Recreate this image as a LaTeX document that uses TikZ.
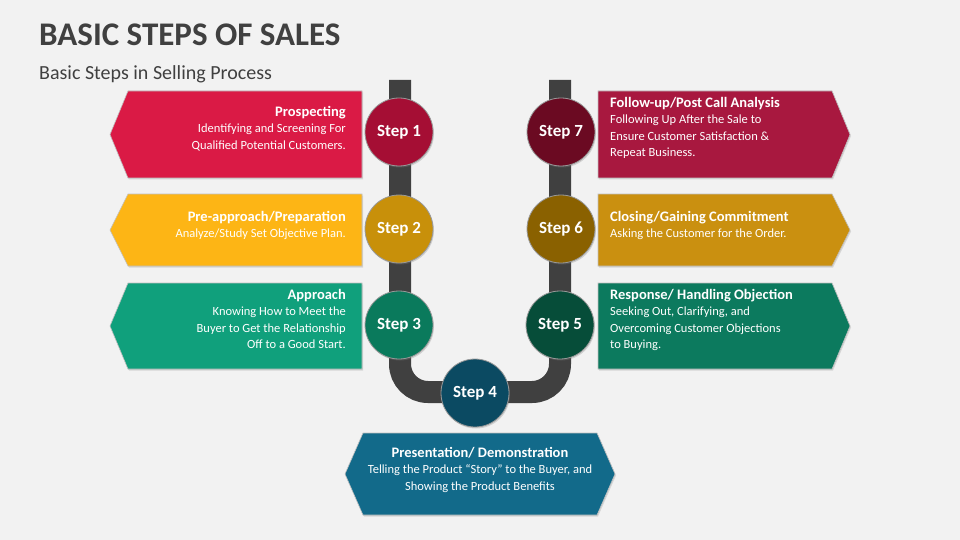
\documentclass[tikz,border=0pt]{standalone}
\usepackage{fontspec}
\setmainfont{Carlito}
\usetikzlibrary{shadows}
\definecolor{bg}{HTML}{F2F2F2}
\definecolor{pipe}{HTML}{404040}
\definecolor{bA}{HTML}{DA1A45}\definecolor{cA}{HTML}{A50E34}
\definecolor{bB}{HTML}{FDB515}\definecolor{cB}{HTML}{C8900A}
\definecolor{bC}{HTML}{10A07C}\definecolor{cC}{HTML}{0A7A5C}
\definecolor{bD}{HTML}{126A8A}\definecolor{cD}{HTML}{0B4A62}
\definecolor{bE}{HTML}{0C7A5E}\definecolor{cE}{HTML}{064D39}
\definecolor{bF}{HTML}{CA9010}\definecolor{cF}{HTML}{8A6100}
\definecolor{bG}{HTML}{A8183F}\definecolor{cG}{HTML}{6B0A22}
\tikzset{
 stepc/.style={circle,minimum size=68pt,inner sep=0pt,draw=black!40,line width=0.8pt,text=white,font=\fontsize{17}{20}\selectfont\bfseries,drop shadow={opacity=0.3,shadow xshift=1pt,shadow yshift=-1.5pt}},
 band/.style={draw=black!25,line width=0.6pt,drop shadow={opacity=0.25,shadow xshift=1pt,shadow yshift=-1.5pt}},
 txt/.style={text=white,font=\fontsize{12.5}{16.5}\selectfont,inner sep=0pt},
}
\begin{document}
\begin{tikzpicture}[x=1pt,y=-1pt]
\fill[bg] (0,0) rectangle (960,540);
\useasboundingbox (0,0) rectangle (960,540);
\node[anchor=west,text=pipe,font=\fontsize{33}{36}\selectfont\bfseries,inner sep=0pt] (title) at (39,35) {BASIC STEPS OF SALES};
\node[anchor=west,text=pipe,font=\fontsize{20}{24}\selectfont,inner sep=0pt] (sub) at (39,74) {Basic Steps in Selling Process};
% pipe
\draw[pipe,line width=22pt,rounded corners=28pt] (400,80) -- (400,392) -- (560,392) -- (560,80);
% left banners
\filldraw[band,fill=bA] (128,91) -- (362,91) -- (362,178) -- (128,178) -- (110,134.5) -- cycle;
\filldraw[band,fill=bB] (128,194) -- (362,194) -- (362,266) -- (128,266) -- (110,230) -- cycle;
\filldraw[band,fill=bC] (128,283) -- (362,283) -- (362,369) -- (128,369) -- (110,326) -- cycle;
% right banners
\filldraw[band,fill=bG] (598,91) -- (832,91) -- (850,134.5) -- (832,178) -- (598,178) -- cycle;
\filldraw[band,fill=bF] (598,194) -- (832,194) -- (850,230) -- (832,266) -- (598,266) -- cycle;
\filldraw[band,fill=bE] (598,283) -- (832,283) -- (850,326) -- (832,369) -- (598,369) -- cycle;
% bottom
\filldraw[band,fill=bD] (363,433) -- (597,433) -- (615,474) -- (597,515) -- (363,515) -- (345,474) -- cycle;
% circles
\node[stepc,fill=cA] (s1) at (399,132) {Step 1};
\node[stepc,fill=cB] (s2) at (399,229) {Step 2};
\node[stepc,fill=cC] (s3) at (399,325) {Step 3};
\node[stepc,fill=cD] (s4) at (475,393) {Step 4};
\node[stepc,fill=cE] (s5) at (560,325) {Step 5};
\node[stepc,fill=cF] (s6) at (561,229) {Step 6};
\node[stepc,fill=cG] (s7) at (561,132) {Step 7};
% texts left
\node[txt,anchor=north east,align=right] (t1) at (346,106) {{\fontsize{14.5}{16.5}\selectfont\bfseries Prospecting}\\Identifying and Screening For\\Qualified Potential Customers.};
\node[txt,anchor=north east,align=right] (t2) at (346,211) {{\fontsize{14.5}{16.5}\selectfont\bfseries Pre-approach/Preparation}\\Analyze/Study Set Objective Plan.};
\node[txt,anchor=north east,align=right] (t3) at (346,289) {{\fontsize{14.5}{16.5}\selectfont\bfseries Approach}\\Knowing How to Meet the\\Buyer to Get the Relationship\\Off to a Good Start.};
% texts right
\node[txt,anchor=north west,align=left] (t7) at (610,97) {{\fontsize{14.5}{16.5}\selectfont\bfseries Follow-up/Post Call Analysis}\\Following Up After the Sale to\\Ensure Customer Satisfaction \&\\Repeat Business.};
\node[txt,anchor=north west,align=left] (t6) at (610,211) {{\fontsize{14.5}{16.5}\selectfont\bfseries Closing/Gaining Commitment}\\Asking the Customer for the Order.};
\node[txt,anchor=north west,align=left] (t5) at (610,289) {{\fontsize{14.5}{16.5}\selectfont\bfseries Response/ Handling Objection}\\Seeking Out, Clarifying, and\\Overcoming Customer Objections\\to Buying.};
% bottom text
\node[txt,anchor=north,align=center] (t4) at (480,447) {{\fontsize{14.5}{16.5}\selectfont\bfseries Presentation/ Demonstration}\\Telling the Product “Story” to the Buyer, and\\Showing the Product Benefits};
\end{tikzpicture}
\end{document}
